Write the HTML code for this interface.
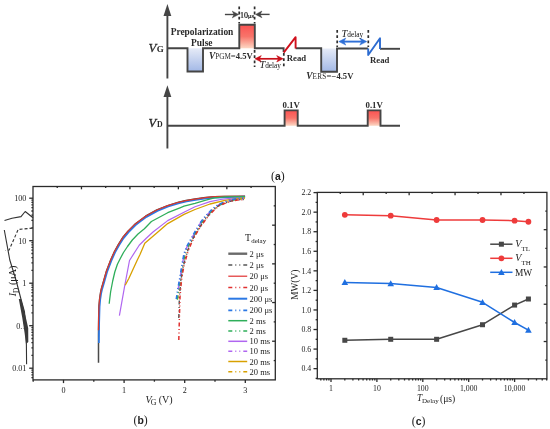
<!DOCTYPE html>
<html><head><meta charset="utf-8"><style>
html,body{margin:0;padding:0;background:#fff;width:550px;height:429px;overflow:hidden;font-family:"Liberation Serif",serif;}
svg{display:block;will-change:transform}
</style></head><body>
<svg width="550" height="429" viewBox="0 0 550 429">
<rect width="550" height="429" fill="#fff"/>
<defs><linearGradient id="gr" x1="0" y1="0" x2="0" y2="1"><stop offset="0" stop-color="#fb5252"/><stop offset="0.5" stop-color="#f8746a"/><stop offset="1" stop-color="#fdd8c4"/></linearGradient><linearGradient id="gb" x1="0" y1="0" x2="0" y2="1"><stop offset="0" stop-color="#e6ebf7"/><stop offset="1" stop-color="#a2b8e6"/></linearGradient></defs>
<rect x="239.3" y="24.7" width="15.5" height="23.6" fill="url(#gr)"/>
<rect x="187.5" y="48.3" width="15.5" height="23.2" fill="url(#gb)"/>
<rect x="321.2" y="48.5" width="15.8" height="23.3" fill="url(#gb)"/>
<rect x="284.6" y="110.4" width="13.1" height="15.4" fill="url(#gr)"/>
<rect x="367.7" y="110.4" width="12.8" height="15.4" fill="url(#gr)"/>
<g stroke="#454545" stroke-width="1.9" fill="none">
<line x1="167.4" y1="78.5" x2="167.4" y2="14"/>
<line x1="167.4" y1="148.5" x2="167.4" y2="95.5"/>
<polyline points="167.4,48.3 187.5,48.3 187.5,71.5 203,71.5 203,48.3 239.3,48.3 239.3,24.7 254.8,24.7 254.8,48.3 283.6,48.3 283.6,52"/>
<polyline points="295.6,48.3 321.2,48.3 321.2,71.8 337,71.8 337,48.5 368.2,48.5"/>
<polyline points="380,48.8 400,48.8"/>
<polyline points="167.4,125.8 284.6,125.8 284.6,110.4 297.7,110.4 297.7,125.8 367.7,125.8 367.7,110.4 380.5,110.4 380.5,125.8 400,125.8"/>
</g>
<polygon points="163.5,16 167.4,4 171.3,16" fill="#454545"/>
<polygon points="163.5,97 167.4,85.3 171.3,97" fill="#454545"/>
<polyline points="283.7,52.6 295.6,37.2 295.6,48.6" fill="none" stroke="#d0101c" stroke-width="1.9" stroke-linejoin="round"/>
<polyline points="368.2,48.5 368.2,55 380,38.2 380,49" fill="none" stroke="#2c6bd0" stroke-width="1.9" stroke-linejoin="round"/>
<g stroke="#2e2e2e" stroke-width="1.7" stroke-dasharray="2.8,2.4" fill="none">
<line x1="239.2" y1="6.4" x2="239.2" y2="23.5"/>
<line x1="254.6" y1="6.4" x2="254.6" y2="23.5"/>
<line x1="254.6" y1="50" x2="254.6" y2="67"/>
<line x1="283.8" y1="53" x2="283.8" y2="67"/>
<line x1="337.2" y1="30" x2="337.2" y2="47"/>
<line x1="368.3" y1="30" x2="368.3" y2="47"/>
</g>
<line x1="224.9" y1="14.5" x2="234" y2="14.5" stroke="#454545" stroke-width="1.4"/>
<polygon points="238.60,14.50 232.30,11.15 234.06,14.50 232.30,17.85" fill="#454545" stroke="#454545" stroke-width="0.5" stroke-linejoin="round"/>
<line x1="260" y1="14.4" x2="269.6" y2="14.4" stroke="#454545" stroke-width="1.4"/>
<polygon points="255.60,14.40 261.90,11.05 260.14,14.40 261.90,17.75" fill="#454545" stroke="#454545" stroke-width="0.5" stroke-linejoin="round"/>
<line x1="258.7" y1="58.8" x2="279.3" y2="58.8" stroke="#c8101a" stroke-width="1.7"/>
<polygon points="254.80,58.80 261.30,55.60 259.48,58.80 261.30,62.00" fill="#c8101a" stroke="#c8101a" stroke-width="0.5" stroke-linejoin="round"/>
<polygon points="283.20,58.80 276.70,55.60 278.52,58.80 276.70,62.00" fill="#c8101a" stroke="#c8101a" stroke-width="0.5" stroke-linejoin="round"/>
<line x1="343.0" y1="41.6" x2="362.6" y2="41.6" stroke="#2f6fd6" stroke-width="1.9"/>
<polygon points="338.80,41.60 345.80,38.10 343.84,41.60 345.80,45.10" fill="#2f6fd6" stroke="#2f6fd6" stroke-width="0.5" stroke-linejoin="round"/>
<polygon points="366.80,41.60 359.80,38.10 361.76,41.60 359.80,45.10" fill="#2f6fd6" stroke="#2f6fd6" stroke-width="0.5" stroke-linejoin="round"/>
<g font-family="Liberation Serif, serif" fill="#2a2a2a">
<text x="202" y="34.6" font-size="9.45" font-weight="bold" text-anchor="middle">Prepolarization</text>
<text x="201.8" y="45.6" font-size="9.45" font-weight="bold" text-anchor="middle">Pulse</text>
<text x="148.6" y="51.5" font-size="12.8" font-style="italic" stroke="#2a2a2a" stroke-width="0.3">V</text><text x="156.8" y="51.6" font-size="9" font-weight="bold">G</text>
<text x="148.6" y="127" font-size="12.6" font-style="italic" stroke="#2a2a2a" stroke-width="0.35">V</text><text x="157.1" y="127" font-size="7.8" font-weight="bold">D</text>
<text x="209" y="58.6" font-weight="bold"><tspan font-size="9.3" font-style="italic">V</tspan><tspan font-size="7.2" font-weight="normal">PGM</tspan><tspan font-size="8.6">=4.5V</tspan></text>
<text x="306.3" y="79.1" font-weight="bold"><tspan font-size="9.3" font-style="italic">V</tspan><tspan font-size="7.2" font-weight="normal" letter-spacing="0.3">ERS</tspan><tspan font-size="8.6">=&#8722;4.5V</tspan></text>
<text x="259.4" y="68.4"><tspan font-size="10.4" font-style="italic" fill="#1a1a1a">T</tspan><tspan font-size="7.3" fill="#111">delay</tspan></text>
<text x="341.5" y="36.9"><tspan font-size="10.4" font-style="italic" fill="#1a1a1a">T</tspan><tspan font-size="7.3" fill="#111">delay</tspan></text>
<text x="286.8" y="60.7" font-size="8.7" font-weight="bold">Read</text>
<text x="370" y="62.5" font-size="8.7" font-weight="bold">Read</text>
<text x="291.2" y="107.7" font-size="8.8" font-weight="bold" text-anchor="middle">0.1V</text>
<text x="374.2" y="107.7" font-size="8.8" font-weight="bold" text-anchor="middle">0.1V</text>
<text x="247" y="17.8" text-anchor="middle" fill="#111" stroke="#111" stroke-width="0.2"><tspan font-size="8">10</tspan><tspan font-size="6.3">&#956;s</tspan></text>
</g>
<text x="271" y="179.6" font-family="Liberation Serif, serif" font-size="11.8" fill="#222"><tspan>(</tspan><tspan font-family="Liberation Sans, sans-serif" font-weight="bold" font-size="10.4">a</tspan><tspan>)</tspan></text>
<text x="133.5" y="423.9" font-family="Liberation Serif, serif" font-size="11.8" fill="#222"><tspan>(</tspan><tspan font-family="Liberation Sans, sans-serif" font-weight="bold" font-size="10.4">b</tspan><tspan>)</tspan></text>
<text x="411.8" y="424.6" font-family="Liberation Serif, serif" font-size="11.8" fill="#222"><tspan>(</tspan><tspan font-family="Liberation Sans, sans-serif" font-weight="bold" font-size="10.4">c</tspan><tspan>)</tspan></text>
<g stroke="#2b2b2b" stroke-width="1.3" fill="none">
<rect x="33.0" y="186.5" width="242.3" height="193.39999999999998"/>
<line x1="33.20" y1="379.9" x2="33.20" y2="381.7"/>
<line x1="63.50" y1="379.9" x2="63.50" y2="383.09999999999997"/>
<line x1="93.80" y1="379.9" x2="93.80" y2="381.7"/>
<line x1="124.10" y1="379.9" x2="124.10" y2="383.09999999999997"/>
<line x1="154.40" y1="379.9" x2="154.40" y2="381.7"/>
<line x1="184.70" y1="379.9" x2="184.70" y2="383.09999999999997"/>
<line x1="215.00" y1="379.9" x2="215.00" y2="381.7"/>
<line x1="245.30" y1="379.9" x2="245.30" y2="383.09999999999997"/>
<line x1="33.0" y1="377.63" x2="31.4" y2="377.63"/>
<line x1="33.0" y1="374.78" x2="31.4" y2="374.78"/>
<line x1="33.0" y1="372.32" x2="31.4" y2="372.32"/>
<line x1="33.0" y1="370.14" x2="31.4" y2="370.14"/>
<line x1="33.0" y1="368.20" x2="29.2" y2="368.20"/>
<line x1="33.0" y1="355.41" x2="31.4" y2="355.41"/>
<line x1="33.0" y1="347.92" x2="31.4" y2="347.92"/>
<line x1="33.0" y1="342.61" x2="31.4" y2="342.61"/>
<line x1="33.0" y1="338.49" x2="31.4" y2="338.49"/>
<line x1="33.0" y1="335.13" x2="31.4" y2="335.13"/>
<line x1="33.0" y1="332.28" x2="31.4" y2="332.28"/>
<line x1="33.0" y1="329.82" x2="31.4" y2="329.82"/>
<line x1="33.0" y1="327.64" x2="31.4" y2="327.64"/>
<line x1="33.0" y1="325.70" x2="29.2" y2="325.70"/>
<line x1="33.0" y1="312.91" x2="31.4" y2="312.91"/>
<line x1="33.0" y1="305.42" x2="31.4" y2="305.42"/>
<line x1="33.0" y1="300.11" x2="31.4" y2="300.11"/>
<line x1="33.0" y1="295.99" x2="31.4" y2="295.99"/>
<line x1="33.0" y1="292.63" x2="31.4" y2="292.63"/>
<line x1="33.0" y1="289.78" x2="31.4" y2="289.78"/>
<line x1="33.0" y1="287.32" x2="31.4" y2="287.32"/>
<line x1="33.0" y1="285.14" x2="31.4" y2="285.14"/>
<line x1="33.0" y1="283.20" x2="29.2" y2="283.20"/>
<line x1="33.0" y1="270.41" x2="31.4" y2="270.41"/>
<line x1="33.0" y1="262.92" x2="31.4" y2="262.92"/>
<line x1="33.0" y1="257.61" x2="31.4" y2="257.61"/>
<line x1="33.0" y1="253.49" x2="31.4" y2="253.49"/>
<line x1="33.0" y1="250.13" x2="31.4" y2="250.13"/>
<line x1="33.0" y1="247.28" x2="31.4" y2="247.28"/>
<line x1="33.0" y1="244.82" x2="31.4" y2="244.82"/>
<line x1="33.0" y1="242.64" x2="31.4" y2="242.64"/>
<line x1="33.0" y1="240.70" x2="29.2" y2="240.70"/>
<line x1="33.0" y1="227.91" x2="31.4" y2="227.91"/>
<line x1="33.0" y1="220.42" x2="31.4" y2="220.42"/>
<line x1="33.0" y1="215.11" x2="31.4" y2="215.11"/>
<line x1="33.0" y1="210.99" x2="31.4" y2="210.99"/>
<line x1="33.0" y1="207.63" x2="31.4" y2="207.63"/>
<line x1="33.0" y1="204.78" x2="31.4" y2="204.78"/>
<line x1="33.0" y1="202.32" x2="31.4" y2="202.32"/>
<line x1="33.0" y1="200.14" x2="31.4" y2="200.14"/>
<line x1="33.0" y1="198.20" x2="29.2" y2="198.20"/>
<line x1="57.23" y1="186.5" x2="57.23" y2="188.1"/>
<line x1="81.46" y1="186.5" x2="81.46" y2="189.3"/>
<line x1="105.69" y1="186.5" x2="105.69" y2="188.1"/>
<line x1="129.92" y1="186.5" x2="129.92" y2="189.3"/>
<line x1="154.15" y1="186.5" x2="154.15" y2="188.1"/>
<line x1="178.38" y1="186.5" x2="178.38" y2="189.3"/>
<line x1="202.61" y1="186.5" x2="202.61" y2="188.1"/>
<line x1="226.84" y1="186.5" x2="226.84" y2="189.3"/>
<line x1="251.07" y1="186.5" x2="251.07" y2="188.1"/>
<line x1="275.3" y1="205.84" x2="273.7" y2="205.84"/>
<line x1="275.3" y1="225.18" x2="272.1" y2="225.18"/>
<line x1="275.3" y1="244.52" x2="273.7" y2="244.52"/>
<line x1="275.3" y1="263.86" x2="272.1" y2="263.86"/>
<line x1="275.3" y1="283.20" x2="273.7" y2="283.20"/>
<line x1="275.3" y1="302.54" x2="272.1" y2="302.54"/>
<line x1="275.3" y1="321.88" x2="273.7" y2="321.88"/>
<line x1="275.3" y1="341.22" x2="272.1" y2="341.22"/>
<line x1="275.3" y1="360.56" x2="273.7" y2="360.56"/>
</g>
<g font-family="Liberation Serif, serif" font-size="8.1" fill="#222">
<text x="63.50" y="392.6" text-anchor="middle">0</text>
<text x="124.10" y="392.6" text-anchor="middle">1</text>
<text x="184.70" y="392.6" text-anchor="middle">2</text>
<text x="245.30" y="392.6" text-anchor="middle">3</text>
<text x="26.4" y="201.00" text-anchor="end">100</text>
<text x="26.4" y="243.50" text-anchor="end">10</text>
<text x="26.4" y="286.00" text-anchor="end">1</text>
<text x="26.4" y="328.50" text-anchor="end">0.1</text>
<text x="26.4" y="371.00" text-anchor="end">0.01</text>
</g>
<g font-family="Liberation Serif, serif" fill="#222">
<text x="145.6" y="403.3" font-size="10" font-style="italic">V</text><text x="150.8" y="405.2" font-size="7.8">G</text><text x="158.7" y="403.3" font-size="10">(V)</text>
<g transform="translate(16.2,281) rotate(-90)"><text x="-15.3" y="0" font-size="10.2" font-style="italic">I</text><text x="-11.9" y="2.4" font-size="7.3">D</text><text x="-4.1" y="0" font-size="10.2">(&#956;A)</text></g>
</g>
<polyline points="98.5,362.8 98.5,335.0 98.7,318.0 99.0,306.0 99.6,299.0 100.5,293.0 101.6,288.0 102.8,284.0 104.5,278.0 106.5,271.0 110.7,260.0 114.5,251.5 118.6,244.2 123.0,237.2 128.0,231.2 135.0,224.2 139.2,221.0 145.9,216.0 156.8,210.0 167.7,205.6 178.6,202.3 186.0,200.6 195.0,199.1 205.5,197.6 214.4,196.7 225.0,196.4 245.0,196.3" fill="none" stroke="#4a4a4a" stroke-width="1.5" stroke-linejoin="round" opacity="1"/>
<polyline points="98.9,342.9 99.1,325.0 99.6,306.9 100.2,299.9 101.1,293.9 102.2,288.9 103.4,284.9 105.1,278.9 107.1,271.9 111.3,260.9 115.1,252.4 119.2,245.1 123.6,238.1 128.6,232.1 135.6,225.1 139.8,221.9 146.5,216.9 157.4,210.9 168.3,206.5 179.2,203.2 186.6,201.5 195.6,200.0 206.1,198.5 215.0,197.6 225.6,197.3 245.2,196.6" fill="none" stroke="#2b78e4" stroke-width="1.7" stroke-linejoin="round" opacity="1"/>
<polyline points="98.4,330.3 98.6,318.0 99.0,306.0 99.6,299.0 100.5,293.0 101.6,288.0 102.8,284.0 104.5,278.0 106.5,271.0 110.7,260.0 114.5,251.5 118.6,244.2 123.0,237.2 128.0,231.2 135.0,224.2 139.2,221.0 145.9,216.0 156.8,210.0 167.7,205.6 178.6,202.3 186.0,200.6 195.0,199.1 205.5,197.6 214.4,196.7 225.0,196.4 245.0,196.3" fill="none" stroke="#d83a30" stroke-width="1.2" stroke-linejoin="round" opacity="1"/>
<polyline points="119.4,315.6 124.6,286.3 129.5,260.5 139.2,245.2 146.0,238.5 153.0,232.0 167.7,220.6 184.0,212.2 195.0,206.7 210.0,201.6 220.7,199.5 232.0,198.2 245.0,197.5" fill="none" stroke="#b066f0" stroke-width="1.2" stroke-linejoin="round" opacity="1"/>
<polyline points="125.2,285.2 128.8,278.5 137.3,260.0 140.0,254.5 144.8,243.3 157.9,232.0 167.7,223.6 184.0,214.4 195.0,209.5 210.0,204.0 225.0,200.3 235.0,198.8 245.0,198.0" fill="none" stroke="#d8a000" stroke-width="1.3" stroke-linejoin="round" opacity="1"/>
<polyline points="109.2,303.8 109.6,300.0 110.6,292.0 112.7,281.0 114.8,272.0 117.4,264.2 120.3,258.5 123.5,252.5 127.5,246.5 132.3,240.0 138.0,234.0 144.4,228.7 151.4,221.5 167.7,212.7 180.0,207.8 184.0,206.2 195.0,203.3 205.0,200.4 214.4,197.8 225.0,196.9 245.0,196.6" fill="none" stroke="#2fae5a" stroke-width="1.3" stroke-linejoin="round" opacity="1"/>
<polyline points="177.6,299.3 179.1,289.3 180.7,280.5 183.5,263.7 185.3,253.9 187.8,247.3 190.9,241.7 196.0,232.4 202.1,222.2 206.8,216.3 211.2,211.8 214.2,208.7 217.8,206.1 223.3,203.2 226.9,201.8 232.4,199.9 238.2,199.1 242.2,198.8 244.9,198.5" fill="none" stroke="#d8a000" stroke-width="1.4" stroke-dasharray="4,2.5,1,2.5,1,2.5" stroke-linejoin="round" opacity="1"/>
<polyline points="177.2,299.6 177.2,299.6 178.7,289.6 180.3,280.8 183.1,264.0 184.9,254.2 187.4,247.6 190.5,242.0 195.6,232.7 201.7,222.5 206.4,216.6 210.8,212.1 213.8,209.0 217.4,206.4 222.9,203.5 226.5,202.1 232.0,200.2 237.8,199.4 241.8,199.1 244.5,198.8" fill="none" stroke="#2fae5a" stroke-width="1.4" stroke-dasharray="4,2.5,1,2.5,1,2.5" stroke-linejoin="round" opacity="1"/>
<polyline points="178.1,289.2 179.7,280.4 182.5,263.6 184.3,253.8 186.8,247.2 189.9,241.6 195.0,232.3 201.1,222.1 205.8,216.2 210.2,211.7 213.2,208.6 216.8,206.0 222.3,203.1 225.9,201.7 231.4,199.8 237.2,199.0 241.2,198.7 243.9,198.4" fill="none" stroke="#b066f0" stroke-width="1.4" stroke-dasharray="4,2.5,1,2.5,1,2.5" stroke-linejoin="round" opacity="1"/>
<polyline points="176.3,299.0 177.8,289.0 179.4,280.2 182.2,263.4 184.0,253.6 186.5,247.0 189.6,241.4 194.7,232.1 200.8,221.9 205.5,216.0 209.9,211.5 212.9,208.4 216.5,205.8 222.0,202.9 225.6,201.5 231.1,199.6 236.9,198.8 240.9,198.5 243.6,198.2" fill="none" stroke="#2b78e4" stroke-width="1.6" stroke-dasharray="4,2.5,1,2.5,1,2.5" stroke-linejoin="round" opacity="1"/>
<polyline points="178.8,318.0 179.4,297.0 180.9,280.2 183.0,267.6 185.7,257.3 188.0,249.8 190.9,243.0 194.6,235.4 199.4,227.5 204.4,220.5 209.3,214.3 213.8,209.8 218.9,205.5 222.5,204.0 229.0,201.8 232.7,200.7 237.0,200.0 243.6,199.5" fill="none" stroke="#555" stroke-width="1.4" stroke-dasharray="4,2.5,1,2.5,1,2.5" stroke-linejoin="round" opacity="1"/>
<polyline points="178.8,340.0 179.4,318.0 180.0,297.0 181.5,280.2 183.6,267.6 186.3,257.3 188.6,249.8 191.5,243.0 195.2,235.4 200.0,227.5 205.0,220.5 209.9,214.3 214.4,209.8 219.5,205.5 223.1,204.0 229.6,201.8 233.3,200.7 237.6,200.0 244.2,199.5" fill="none" stroke="#e03030" stroke-width="1.5" stroke-dasharray="4,2.5,1,2.5,1,2.5" stroke-linejoin="round" opacity="1"/>
<polyline points="4.5,220.6 12.0,218.2 21.0,216.6 25.2,211.5 33.0,217.8" fill="none" stroke="#333" stroke-width="1.1" stroke-linejoin="round" opacity="1"/>
<polyline points="32.5,228.1 18.2,229.5 9.1,250.0 5.6,250.5" fill="none" stroke="#333" stroke-width="1.1" stroke-dasharray="3,2" stroke-linejoin="round" opacity="1"/>
<polyline points="4.3,230.0 9.8,260.0 16.0,280.0 21.2,300.0 24.5,312.0 25.9,330.0 26.4,345.0 26.6,364.3" fill="none" stroke="#333" stroke-width="1.1" stroke-linejoin="round" opacity="1"/>
<polygon points="18.8,299 21.2,299 25.5,316 28.2,328 28.3,342 26,344 24.6,333 22.3,318" fill="#3a3a3a"/>
<line x1="228.3" y1="253.7" x2="247.2" y2="253.7" stroke="#6a6a6a" stroke-width="2.4"/>
<text x="249.5" y="256.7" font-family="Liberation Serif, serif" font-size="8.5" fill="#222">2 &#956;s</text>
<line x1="228.3" y1="265" x2="247.2" y2="265" stroke="#555" stroke-width="1.4" stroke-dasharray="4,3,1,3,1,3"/>
<text x="249.5" y="268" font-family="Liberation Serif, serif" font-size="8.5" fill="#222">2 &#956;s</text>
<line x1="228.3" y1="276.2" x2="247.2" y2="276.2" stroke="#e03030" stroke-width="1.2"/>
<text x="249.5" y="279.2" font-family="Liberation Serif, serif" font-size="8.5" fill="#222">20 &#956;s</text>
<line x1="228.3" y1="287.5" x2="247.2" y2="287.5" stroke="#e03030" stroke-width="1.4" stroke-dasharray="4,3,1,3,1,3"/>
<text x="249.5" y="290.5" font-family="Liberation Serif, serif" font-size="8.5" fill="#222">20 &#956;s</text>
<line x1="228.3" y1="298.7" x2="247.2" y2="298.7" stroke="#2b78e4" stroke-width="2.0"/>
<text x="249.5" y="301.7" font-family="Liberation Serif, serif" font-size="8.5" fill="#222">200 &#956;s</text>
<line x1="228.3" y1="310.4" x2="247.2" y2="310.4" stroke="#2b78e4" stroke-width="1.6" stroke-dasharray="4,3,1,3,1,3"/>
<text x="249.5" y="313.4" font-family="Liberation Serif, serif" font-size="8.5" fill="#222">200 &#956;s</text>
<line x1="228.3" y1="320.7" x2="247.2" y2="320.7" stroke="#2fae5a" stroke-width="1.5"/>
<text x="249.5" y="323.7" font-family="Liberation Serif, serif" font-size="8.5" fill="#222">2 ms</text>
<line x1="228.3" y1="331" x2="247.2" y2="331" stroke="#2fae5a" stroke-width="1.6" stroke-dasharray="4,3,1,3,1,3"/>
<text x="249.5" y="334" font-family="Liberation Serif, serif" font-size="8.5" fill="#222">2 ms</text>
<line x1="228.3" y1="341.3" x2="247.2" y2="341.3" stroke="#b066f0" stroke-width="1.5"/>
<text x="249.5" y="344.3" font-family="Liberation Serif, serif" font-size="8.5" fill="#222">10 ms</text>
<line x1="228.3" y1="351.3" x2="247.2" y2="351.3" stroke="#b066f0" stroke-width="1.6" stroke-dasharray="4,3,1,3,1,3"/>
<text x="249.5" y="354.3" font-family="Liberation Serif, serif" font-size="8.5" fill="#222">10 ms</text>
<line x1="228.3" y1="361.5" x2="247.2" y2="361.5" stroke="#d8a000" stroke-width="1.5"/>
<text x="249.5" y="364.5" font-family="Liberation Serif, serif" font-size="8.5" fill="#222">20 ms</text>
<line x1="228.3" y1="371.7" x2="247.2" y2="371.7" stroke="#d8a000" stroke-width="1.6" stroke-dasharray="4,3,1,3,1,3"/>
<text x="249.5" y="374.7" font-family="Liberation Serif, serif" font-size="8.5" fill="#222">20 ms</text>
<text x="245" y="240.8" font-family="Liberation Serif, serif" font-size="9.8" fill="#222">T</text><text x="251.2" y="243.4" font-family="Liberation Serif, serif" font-size="6.9" fill="#111">delay</text>
<g stroke="#2b2b2b" stroke-width="1.3" fill="none">
<rect x="317.3" y="192.4" width="229.59999999999997" height="186.4"/>
<line x1="317.3" y1="378.42" x2="315.6" y2="378.42"/>
<line x1="317.3" y1="368.64" x2="313.5" y2="368.64"/>
<line x1="317.3" y1="358.86" x2="315.6" y2="358.86"/>
<line x1="317.3" y1="349.08" x2="313.5" y2="349.08"/>
<line x1="317.3" y1="339.30" x2="315.6" y2="339.30"/>
<line x1="317.3" y1="329.52" x2="313.5" y2="329.52"/>
<line x1="317.3" y1="319.74" x2="315.6" y2="319.74"/>
<line x1="317.3" y1="309.96" x2="313.5" y2="309.96"/>
<line x1="317.3" y1="300.18" x2="315.6" y2="300.18"/>
<line x1="317.3" y1="290.40" x2="313.5" y2="290.40"/>
<line x1="317.3" y1="280.62" x2="315.6" y2="280.62"/>
<line x1="317.3" y1="270.84" x2="313.5" y2="270.84"/>
<line x1="317.3" y1="261.06" x2="315.6" y2="261.06"/>
<line x1="317.3" y1="251.28" x2="313.5" y2="251.28"/>
<line x1="317.3" y1="241.50" x2="315.6" y2="241.50"/>
<line x1="317.3" y1="231.72" x2="313.5" y2="231.72"/>
<line x1="317.3" y1="221.94" x2="315.6" y2="221.94"/>
<line x1="317.3" y1="212.16" x2="313.5" y2="212.16"/>
<line x1="317.3" y1="202.38" x2="315.6" y2="202.38"/>
<line x1="317.3" y1="192.60" x2="313.5" y2="192.60"/>
<line x1="320.82" y1="378.8" x2="320.82" y2="380.5"/>
<line x1="323.89" y1="378.8" x2="323.89" y2="380.5"/>
<line x1="326.55" y1="378.8" x2="326.55" y2="380.5"/>
<line x1="328.90" y1="378.8" x2="328.90" y2="380.5"/>
<line x1="331.00" y1="378.8" x2="331.00" y2="382.0"/>
<line x1="344.82" y1="378.8" x2="344.82" y2="380.5"/>
<line x1="352.90" y1="378.8" x2="352.90" y2="380.5"/>
<line x1="358.63" y1="378.8" x2="358.63" y2="380.5"/>
<line x1="363.08" y1="378.8" x2="363.08" y2="380.5"/>
<line x1="366.72" y1="378.8" x2="366.72" y2="380.5"/>
<line x1="369.79" y1="378.8" x2="369.79" y2="380.5"/>
<line x1="372.45" y1="378.8" x2="372.45" y2="380.5"/>
<line x1="374.80" y1="378.8" x2="374.80" y2="380.5"/>
<line x1="376.90" y1="378.8" x2="376.90" y2="382.0"/>
<line x1="390.72" y1="378.8" x2="390.72" y2="380.5"/>
<line x1="398.80" y1="378.8" x2="398.80" y2="380.5"/>
<line x1="404.53" y1="378.8" x2="404.53" y2="380.5"/>
<line x1="408.98" y1="378.8" x2="408.98" y2="380.5"/>
<line x1="412.62" y1="378.8" x2="412.62" y2="380.5"/>
<line x1="415.69" y1="378.8" x2="415.69" y2="380.5"/>
<line x1="418.35" y1="378.8" x2="418.35" y2="380.5"/>
<line x1="420.70" y1="378.8" x2="420.70" y2="380.5"/>
<line x1="422.80" y1="378.8" x2="422.80" y2="382.0"/>
<line x1="436.62" y1="378.8" x2="436.62" y2="380.5"/>
<line x1="444.70" y1="378.8" x2="444.70" y2="380.5"/>
<line x1="450.43" y1="378.8" x2="450.43" y2="380.5"/>
<line x1="454.88" y1="378.8" x2="454.88" y2="380.5"/>
<line x1="458.52" y1="378.8" x2="458.52" y2="380.5"/>
<line x1="461.59" y1="378.8" x2="461.59" y2="380.5"/>
<line x1="464.25" y1="378.8" x2="464.25" y2="380.5"/>
<line x1="466.60" y1="378.8" x2="466.60" y2="380.5"/>
<line x1="468.70" y1="378.8" x2="468.70" y2="382.0"/>
<line x1="482.52" y1="378.8" x2="482.52" y2="380.5"/>
<line x1="490.60" y1="378.8" x2="490.60" y2="380.5"/>
<line x1="496.33" y1="378.8" x2="496.33" y2="380.5"/>
<line x1="500.78" y1="378.8" x2="500.78" y2="380.5"/>
<line x1="504.42" y1="378.8" x2="504.42" y2="380.5"/>
<line x1="507.49" y1="378.8" x2="507.49" y2="380.5"/>
<line x1="510.15" y1="378.8" x2="510.15" y2="380.5"/>
<line x1="512.50" y1="378.8" x2="512.50" y2="380.5"/>
<line x1="514.60" y1="378.8" x2="514.60" y2="382.0"/>
<line x1="528.42" y1="378.8" x2="528.42" y2="380.5"/>
<line x1="536.50" y1="378.8" x2="536.50" y2="380.5"/>
<line x1="542.23" y1="378.8" x2="542.23" y2="380.5"/>
<line x1="546.68" y1="378.8" x2="546.68" y2="380.5"/>
<line x1="340.26" y1="192.4" x2="340.26" y2="194.0"/>
<line x1="363.22" y1="192.4" x2="363.22" y2="195.20000000000002"/>
<line x1="386.18" y1="192.4" x2="386.18" y2="194.0"/>
<line x1="409.14" y1="192.4" x2="409.14" y2="195.20000000000002"/>
<line x1="432.10" y1="192.4" x2="432.10" y2="194.0"/>
<line x1="455.06" y1="192.4" x2="455.06" y2="195.20000000000002"/>
<line x1="478.02" y1="192.4" x2="478.02" y2="194.0"/>
<line x1="500.98" y1="192.4" x2="500.98" y2="195.20000000000002"/>
<line x1="523.94" y1="192.4" x2="523.94" y2="194.0"/>
<line x1="546.9" y1="211.04" x2="545.3" y2="211.04"/>
<line x1="546.9" y1="229.68" x2="543.6999999999999" y2="229.68"/>
<line x1="546.9" y1="248.32" x2="545.3" y2="248.32"/>
<line x1="546.9" y1="266.96" x2="543.6999999999999" y2="266.96"/>
<line x1="546.9" y1="285.60" x2="545.3" y2="285.60"/>
<line x1="546.9" y1="304.24" x2="543.6999999999999" y2="304.24"/>
<line x1="546.9" y1="322.88" x2="545.3" y2="322.88"/>
<line x1="546.9" y1="341.52" x2="543.6999999999999" y2="341.52"/>
<line x1="546.9" y1="360.16" x2="545.3" y2="360.16"/>
</g>
<g font-family="Liberation Serif, serif" font-size="7.8" fill="#222">
<text x="311.2" y="371.34" text-anchor="end">0.4</text>
<text x="311.2" y="351.78" text-anchor="end">0.6</text>
<text x="311.2" y="332.22" text-anchor="end">0.8</text>
<text x="311.2" y="312.66" text-anchor="end">1.0</text>
<text x="311.2" y="293.10" text-anchor="end">1.2</text>
<text x="311.2" y="273.54" text-anchor="end">1.4</text>
<text x="311.2" y="253.98" text-anchor="end">1.6</text>
<text x="311.2" y="234.42" text-anchor="end">1.8</text>
<text x="311.2" y="214.86" text-anchor="end">2.0</text>
<text x="311.2" y="195.30" text-anchor="end">2.2</text>
<text x="331.00" y="391.3" text-anchor="middle">1</text>
<text x="376.90" y="391.3" text-anchor="middle">10</text>
<text x="422.80" y="391.3" text-anchor="middle">100</text>
<text x="468.70" y="391.3" text-anchor="middle">1,000</text>
<text x="514.60" y="391.3" text-anchor="middle">10,000</text>
</g>
<g font-family="Liberation Serif, serif" fill="#222">
<text x="416.9" y="401.4" font-size="9.3" font-style="italic">T</text><text x="422" y="403" font-size="7">Delay</text><text x="440" y="401.6" font-size="9.6">(&#956;s)</text>
<text x="0" y="0" font-size="9.3" transform="translate(297.6,284.7) rotate(-90)" text-anchor="middle">MW(V)</text>
</g>
<polyline points="344.8,340.3 390.7,339.3 436.6,339.3 482.5,324.7 514.6,305.1 528.4,299.0" fill="none" stroke="#474747" stroke-width="1.5" stroke-linejoin="round" opacity="1"/>
<rect x="342.32" y="337.78" width="5" height="5" fill="#474747"/>
<rect x="388.22" y="336.80" width="5" height="5" fill="#474747"/>
<rect x="434.12" y="336.80" width="5" height="5" fill="#474747"/>
<rect x="480.02" y="322.23" width="5" height="5" fill="#474747"/>
<rect x="512.10" y="302.57" width="5" height="5" fill="#474747"/>
<rect x="525.92" y="296.51" width="5" height="5" fill="#474747"/>
<polyline points="344.8,214.8 390.7,215.7 436.6,220.0 482.5,220.0 514.6,220.7 528.4,221.7" fill="none" stroke="#ee3b3b" stroke-width="1.5" stroke-linejoin="round" opacity="1"/>
<circle cx="344.82" cy="214.80" r="2.9" fill="#ee3b3b"/>
<circle cx="390.72" cy="215.68" r="2.9" fill="#ee3b3b"/>
<circle cx="436.62" cy="219.98" r="2.9" fill="#ee3b3b"/>
<circle cx="482.52" cy="219.98" r="2.9" fill="#ee3b3b"/>
<circle cx="514.60" cy="220.67" r="2.9" fill="#ee3b3b"/>
<circle cx="528.42" cy="221.74" r="2.9" fill="#ee3b3b"/>
<polyline points="344.8,282.4 390.7,283.6 436.6,287.5 482.5,302.3 514.6,322.5 528.4,330.2" fill="none" stroke="#1f6fe0" stroke-width="1.5" stroke-linejoin="round" opacity="1"/>
<polygon points="341.52,284.98 344.82,278.98 348.12,284.98" fill="#1f6fe0"/>
<polygon points="387.42,286.15 390.72,280.15 394.02,286.15" fill="#1f6fe0"/>
<polygon points="433.32,290.07 436.62,284.07 439.92,290.07" fill="#1f6fe0"/>
<polygon points="479.22,304.93 482.52,298.93 485.82,304.93" fill="#1f6fe0"/>
<polygon points="511.30,325.08 514.60,319.08 517.90,325.08" fill="#1f6fe0"/>
<polygon points="525.12,332.80 528.42,326.80 531.72,332.80" fill="#1f6fe0"/>
<line x1="490.2" y1="244.2" x2="512.5" y2="244.2" stroke="#474747" stroke-width="1.5"/>
<rect x="498.90" y="241.70" width="5" height="5" fill="#474747"/>
<line x1="490.2" y1="258.3" x2="512.5" y2="258.3" stroke="#ee3b3b" stroke-width="1.5"/>
<circle cx="501.40" cy="258.30" r="2.9" fill="#ee3b3b"/>
<line x1="490.2" y1="272.3" x2="512.5" y2="272.3" stroke="#1f6fe0" stroke-width="1.5"/>
<polygon points="498.10,274.90 501.40,268.90 504.70,274.90" fill="#1f6fe0"/>
<g font-family="Liberation Serif, serif" fill="#222">
<text x="515.3" y="247.3" font-size="10" font-style="italic">V</text><text x="521.4" y="250.6" font-size="7">TL</text>
<text x="515.3" y="261.4" font-size="10" font-style="italic">V</text><text x="521.4" y="264.7" font-size="7">TH</text>
<text x="515" y="275.6" font-size="9.4">MW</text>
</g>
</svg>
</body></html>
